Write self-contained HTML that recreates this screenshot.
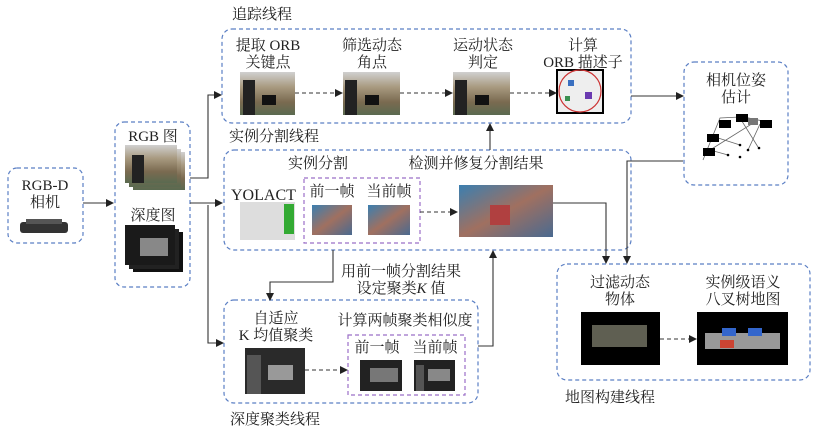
<!DOCTYPE html>
<html><head><meta charset="utf-8"><style>
body{margin:0;background:#fff;}
svg{display:block;font-family:"Liberation Serif","Noto Serif CJK SC",serif;}
text{font-size:15px;fill:#222;}
</style></head><body>
<svg width="821" height="433" viewBox="0 0 821 433" xmlns="http://www.w3.org/2000/svg">
<defs>
<marker id="a" markerWidth="8" markerHeight="8" refX="7" refY="4" orient="auto" markerUnits="userSpaceOnUse"><path d="M0,0 L8,4 L0,8 z" fill="#222"/></marker>
<linearGradient id="rgb" x1="0" y1="0" x2="0" y2="1"><stop offset="0" stop-color="#d0d0d0"/><stop offset="0.35" stop-color="#a89a80"/><stop offset="0.7" stop-color="#7a6a50"/><stop offset="1" stop-color="#5a6a50"/></linearGradient>
<linearGradient id="seg" x1="0" y1="0" x2="1" y2="1"><stop offset="0" stop-color="#3b7fb0"/><stop offset="0.5" stop-color="#a07060"/><stop offset="1" stop-color="#4a6a90"/></linearGradient>
</defs>
<g fill="none" stroke="#5b7fc4" stroke-width="1.2" stroke-dasharray="4,3">
<rect x="8" y="168" width="75" height="75" rx="9"/>
<rect x="115" y="122" width="75" height="165" rx="9"/>
<rect x="222" y="29" width="409" height="94" rx="10"/>
<rect x="224" y="150" width="407" height="100" rx="10"/>
<rect x="224" y="300" width="254" height="103" rx="10"/>
<rect x="684" y="62" width="104" height="123" rx="10"/>
<rect x="557" y="264" width="253" height="116" rx="10"/>
</g>
<g fill="none" stroke="#9b6fc8" stroke-width="1.2" stroke-dasharray="4,3">
<rect x="304" y="178" width="116" height="65"/>
<rect x="348" y="335" width="117" height="60"/>
</g>
<text x="232" y="19">追踪线程</text>
<text x="229" y="141">实例分割线程</text>
<text x="230" y="424">深度聚类线程</text>
<text x="565" y="402">地图构建线程</text>
<g text-anchor="middle">
<text x="45" y="190">RGB-D</text><text x="45" y="207">相机</text>
<text x="153" y="141">RGB 图</text><text x="153" y="220">深度图</text>
<text x="268" y="50">提取 ORB</text><text x="268" y="67">关键点</text>
<text x="372" y="50">筛选动态</text><text x="372" y="67">角点</text>
<text x="483" y="50">运动状态</text><text x="483" y="67">判定</text>
<text x="583" y="50">计算</text><text x="583" y="67">ORB 描述子</text>
<text x="736" y="85">相机位姿</text><text x="736" y="102">估计</text>
<text x="318" y="168">实例分割</text><text x="476" y="168">检测并修复分割结果</text>
<text x="332" y="196">前一帧</text><text x="389" y="196">当前帧</text>
<text x="401" y="276">用前一帧分割结果</text><text x="401" y="293">设定聚类<tspan font-style="italic">K</tspan> 值</text>
<text x="276" y="323">自适应</text><text x="276" y="340">K 均值聚类</text>
<text x="405" y="325">计算两帧聚类相似度</text>
<text x="377" y="352">前一帧</text><text x="435" y="352">当前帧</text>
<text x="620" y="287">过滤动态</text><text x="620" y="304">物体</text>
<text x="743" y="287">实例级语义</text><text x="743" y="304">八叉树地图</text>
</g>
<text x="231" y="200" style="font-size:16px">YOLACT</text>
<!-- camera -->
<rect x="20" y="222" width="48" height="11" rx="3" fill="#333"/><rect x="26" y="219" width="36" height="5" fill="#555"/>
<!-- rgb stack -->
<rect x="133" y="152" width="52" height="38" fill="url(#rgb)"/><rect x="129" y="149" width="52" height="38" fill="url(#rgb)"/><rect x="125" y="145" width="52" height="38" fill="url(#rgb)"/>
<rect x="132" y="155" width="12" height="28" fill="#222"/>
<rect x="133" y="232" width="50" height="40" fill="#111"/><rect x="129" y="229" width="50" height="40" fill="#222"/><rect x="125" y="225" width="50" height="40" fill="#1a1a1a"/>
<rect x="140" y="238" width="28" height="18" fill="#888"/>
<!-- tracking images -->
<rect x="240" y="72" width="55" height="43" fill="url(#rgb)"/><rect x="243" y="80" width="12" height="35" fill="#222"/><rect x="262" y="95" width="14" height="10" fill="#111"/>
<rect x="343" y="72" width="57" height="43" fill="url(#rgb)"/><rect x="345" y="80" width="12" height="35" fill="#222"/><rect x="365" y="95" width="14" height="10" fill="#111"/>
<rect x="453" y="72" width="57" height="43" fill="url(#rgb)"/><rect x="455" y="80" width="12" height="35" fill="#222"/><rect x="475" y="95" width="14" height="10" fill="#111"/>
<rect x="557" y="70" width="46" height="43" fill="#eee" stroke="#000" stroke-width="2"/>
<circle cx="580" cy="91" r="21" fill="none" stroke="#c33" stroke-width="1.2"/>
<rect x="568" y="80" width="6" height="6" fill="#3a6fc0"/><rect x="585" y="92" width="7" height="7" fill="#6a3ab0"/><rect x="565" y="96" width="5" height="5" fill="#3a9050"/>
<!-- seg images -->
<rect x="240" y="202" width="55" height="38" fill="#ddd"/><rect x="284" y="204" width="10" height="30" fill="#3a3"/>
<rect x="312" y="205" width="40" height="30" fill="url(#seg)"/><rect x="368" y="205" width="42" height="30" fill="url(#seg)"/>
<rect x="459" y="185" width="94" height="52" fill="url(#seg)"/><rect x="490" y="205" width="20" height="20" fill="#b04040"/>
<!-- depth cluster -->
<rect x="245" y="348" width="60" height="46" fill="#2a2a2a"/><rect x="247" y="355" width="14" height="39" fill="#555"/><rect x="268" y="365" width="25" height="15" fill="#999"/>
<rect x="360" y="360" width="42" height="31" fill="#222"/><rect x="370" y="368" width="28" height="14" fill="#777"/>
<rect x="414" y="360" width="41" height="31" fill="#222"/><rect x="416" y="365" width="8" height="26" fill="#555"/><rect x="428" y="369" width="22" height="12" fill="#888"/>
<!-- map images -->
<rect x="581" y="312" width="79" height="53" fill="#000"/><rect x="592" y="325" width="55" height="22" fill="#776" opacity="0.8"/>
<rect x="697" y="312" width="91" height="53" fill="#000"/><rect x="705" y="333" width="75" height="16" fill="#999"/><rect x="722" y="328" width="14" height="8" fill="#36c"/><rect x="748" y="328" width="14" height="8" fill="#36c"/><rect x="720" y="340" width="14" height="8" fill="#c43"/>
<!-- pose graph -->
<g fill="none" stroke="#666" stroke-width="0.8"><path d="M703,160 L720,118 L740,117 M710,150 L758,120 M710,150 L728,155 M715,137 L740,145 M740,118 L758,147 M744,117 L772,123 M760,124 L748,150"/></g>
<g fill="#000"><rect x="703" y="148" width="12" height="8"/><rect x="707" y="134" width="12" height="8"/><rect x="719" y="120" width="12" height="8"/><rect x="736" y="114" width="12" height="8"/><rect x="760" y="120" width="12" height="8"/>
<circle cx="728" cy="155" r="1.3"/><circle cx="740" cy="145" r="1.3"/><circle cx="748" cy="150" r="1.3"/><circle cx="759" cy="148" r="1.3"/><circle cx="740" cy="157" r="1.3"/></g>
<rect x="748" y="118" width="10" height="7" fill="#777"/>
<!-- solid arrows -->
<g fill="none" stroke="#333" stroke-width="1.1">
<path d="M83,203 H113" marker-end="url(#a)"/>
<path d="M190,178 H208 V95 H221" marker-end="url(#a)"/>
<path d="M190,203 H222" marker-end="url(#a)"/>
<path d="M208,205 V343 H223" marker-end="url(#a)"/>
<path d="M631,96 H683" marker-end="url(#a)"/>
<path d="M683,161 H627 V263" marker-end="url(#a)"/>
<path d="M553,203 H606 V263" marker-end="url(#a)"/>
<path d="M490,150 V124" marker-end="url(#a)"/>
<path d="M333,250 V282 H270 V300" marker-end="url(#a)"/>
<path d="M478,346 H493 V251" marker-end="url(#a)"/>
</g>
<g fill="none" stroke="#333" stroke-width="1" stroke-dasharray="4,3">
<path d="M295,93 H342" marker-end="url(#a)"/>
<path d="M400,93 H452" marker-end="url(#a)"/>
<path d="M510,93 H556" marker-end="url(#a)"/>
<path d="M420,212 H457" marker-end="url(#a)"/>
<path d="M305,370 H347" marker-end="url(#a)"/>
<path d="M660,339 H696" marker-end="url(#a)"/>
</g>
</svg>
</body></html>
